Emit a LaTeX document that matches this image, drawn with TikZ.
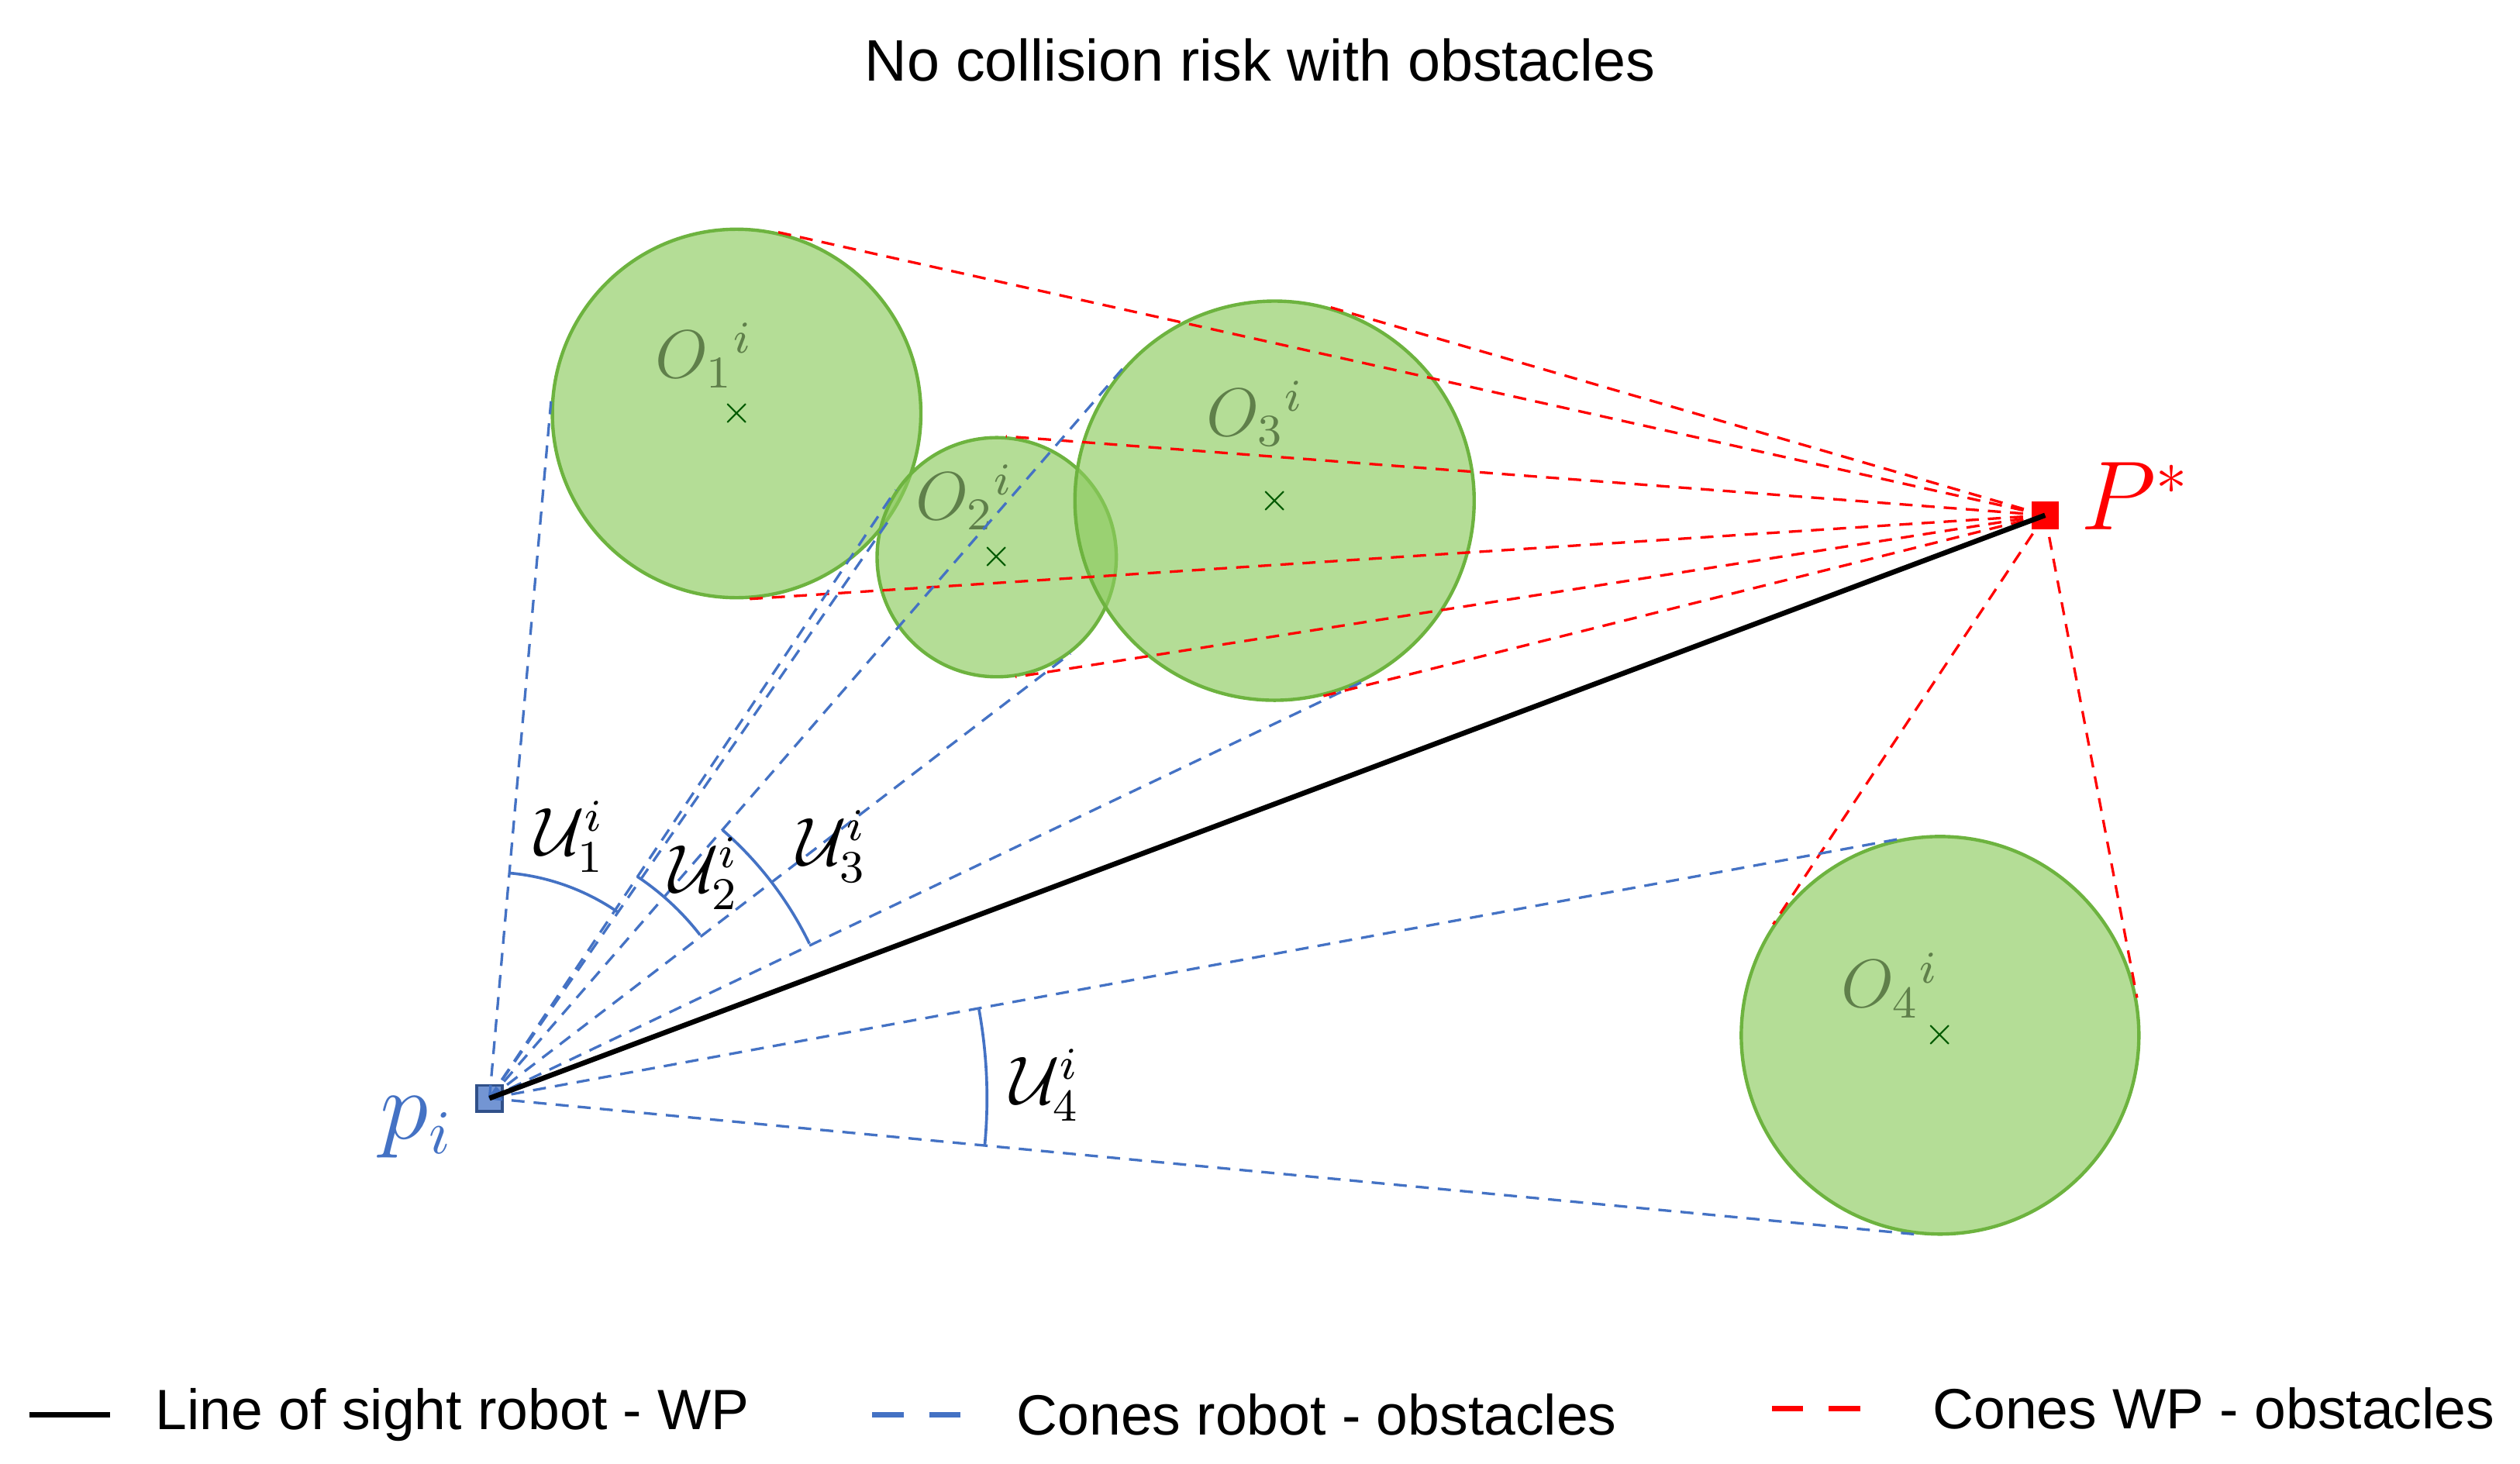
\documentclass[tikz,border=0pt]{standalone}
\usepackage{fontspec}
\setmainfont{Liberation Sans}
\usetikzlibrary{calc}
\definecolor{obsfill}{HTML}{8CCB5E}
\definecolor{obsdraw}{HTML}{6DB33F}
\definecolor{cblue}{HTML}{4472C4}
\definecolor{cred}{HTML}{FF0000}
\definecolor{olab}{HTML}{5F7F4A}
\begin{document}
\begin{tikzpicture}[x=0.01cm,y=0.01cm,
  obs/.style={circle,fill=obsfill,fill opacity=0.65,draw=obsdraw,line width=0.6pt,inner sep=0pt},
  ctr/.style={text=green!35!black,font=\fontsize{6}{6}\selectfont,inner sep=0pt},
  olabel/.style={text=olab,font=\fontsize{11.5}{12}\selectfont},
  bcone/.style={cblue,line width=0.45pt,dash pattern=on 2.3pt off 1.6pt},
  rcone/.style={cred,line width=0.45pt,dash pattern=on 2.3pt off 1.6pt},
  uarc/.style={cblue,line width=0.5pt},
  ulabel/.style={font=\fontsize{12}{12}\selectfont},
  legend/.style={font=\fontsize{10}{12}\selectfont,anchor=west}]
\useasboundingbox (0,0) rectangle (1560,-906);
\node[font=\fontsize{10.3}{13}\selectfont] (title) at (780,-37) {No collision risk with obstacles};
% obstacles
\node[obs,minimum size=2.28cm] (O1) at (456,-256) {};
\node[obs,minimum size=1.48cm] (O2) at (617,-345) {};
\node[obs,minimum size=2.47cm] (O3) at (789,-310) {};
\node[obs,minimum size=2.46cm] (O4) at (1201,-641) {};
\foreach \o in {O1,O2,O3,O4}{\node[ctr] at (\o.center) {$\times$};}
\node[olabel] (l1) at (436,-220) {$O_1{}^i$};
\node[olabel] (l2) at (597,-308) {$O_2{}^i$};
\node[olabel] (l3) at (777,-256) {$O_3{}^i$};
\node[olabel] (l4) at (1170,-610) {$O_4{}^i$};
% robot and WP
\node[draw=cblue!70!black,fill=cblue!75,minimum size=0.16cm,inner sep=0pt,line width=0.5pt] (pi) at (303,-680) {};
\node[text=cblue,font=\fontsize{16}{16}\selectfont] (pil) at (258,-698) {$p_i$};
\node[fill=cred,minimum size=0.17cm,inner sep=0pt] (P) at (1266,-319) {};
\node[text=cred,font=\fontsize{16}{16}\selectfont] (Pl) at (1322,-307) {$P^*$};
% cones
\foreach \o in {O1,O2,O3,O4}{
  \foreach \s in {1,2}{
    \coordinate (b\o\s) at (tangent cs:node=\o,point={(pi.center)},solution=\s);
    \coordinate (r\o\s) at (tangent cs:node=\o,point={(P.center)},solution=\s);
    \draw[bcone] (pi.center) -- (b\o\s);
    \draw[rcone] (P.center) -- (r\o\s);
  }}
\draw[line width=0.9pt] (pi.center) -- (P.center);
% angle arcs
\draw[uarc] ($(pi.center)+(55.5:140)$) arc[start angle=55.5,end angle=84.8,radius=1.4cm];
\draw[uarc] ($(pi.center)+(37.8:165)$) arc[start angle=37.8,end angle=56.3,radius=1.65cm];
\draw[uarc] ($(pi.center)+(25.8:220)$) arc[start angle=25.8,end angle=49.0,radius=2.2cm];
\draw[uarc] ($(pi.center)+(-5.45:308)$) arc[start angle=-5.45,end angle=10.3,radius=3.08cm];
\node[ulabel] (u1) at (353,-518) {$\mathcal{U}^i_1$};
\node[ulabel] (u2) at (436,-541) {$\mathcal{U}^i_2$};
\node[ulabel] (u3) at (515,-524) {$\mathcal{U}^i_3$};
\node[ulabel] (u4) at (647,-672) {$\mathcal{U}^i_4$};
% legend
\coordinate (a1) at (18,-876); \coordinate (a2) at (68,-876);
\draw[line width=0.9pt] (a1) -- (a2);
\node[legend] (t1) at (84,-876) {Line of sight robot - WP};
\coordinate (b1) at (540,-876); \coordinate (b2) at (600,-876);
\draw[cblue,line width=0.9pt,dash pattern=on 5.5pt off 4.5pt] (b1) -- (b2);
\node[legend] (t2) at (617,-876) {Cones robot - obstacles};
\coordinate (c1) at (1097,-872); \coordinate (c2) at (1160,-872);
\draw[cred,line width=0.9pt,dash pattern=on 5.5pt off 4.5pt] (c1) -- (c2);
\node[legend] (t3) at (1184,-872) {Cones WP - obstacles};
\end{tikzpicture}
\end{document}
